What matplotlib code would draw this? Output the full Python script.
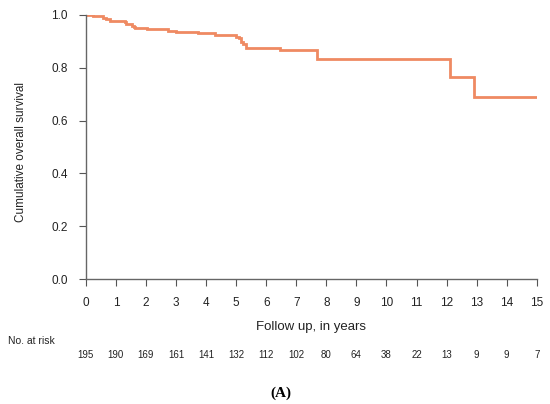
import matplotlib
matplotlib.use('Agg')
import matplotlib.pyplot as plt

# Kaplan-Meier step curve
times = [0, 0.24, 0.57, 0.66, 0.80, 1.30, 1.35, 1.52, 1.60, 1.65, 2.02, 2.73, 3.00,
         3.72, 4.29, 5.00, 5.09, 5.15, 5.22, 5.34, 6.45, 7.70, 12.10, 12.90, 15.0]
surv = [1.0, 0.995, 0.990, 0.984, 0.977, 0.972, 0.966, 0.960, 0.955, 0.952, 0.946,
        0.941, 0.936, 0.931, 0.925, 0.918, 0.912, 0.899, 0.889, 0.875, 0.866, 0.834,
        0.767, 0.691, 0.691]

years = list(range(16))
at_risk = [195, 190, 169, 161, 141, 132, 112, 102, 80, 64, 38, 22, 13, 9, 9, 7]

plt.rcParams['font.family'] = ['Liberation Sans', 'DejaVu Sans']

fig = plt.figure(figsize=(5.5, 4.04), dpi=100)
ax = fig.add_axes([0.156, 0.309, 0.82, 0.654])

ax.step(times, surv, where='post', color='#ef8a62', lw=2, solid_joinstyle='miter')

ax.set_xlim(0, 15)
ax.set_ylim(0, 1.0)
ax.set_xticks(years)
ax.set_yticks([0.0, 0.2, 0.4, 0.6, 0.8, 1.0])
ax.set_yticklabels(['0.0', '0.2', '0.4', '0.6', '0.8', '1.0'])
ax.tick_params(labelsize=8.5, length=5, width=0.8, color='#555555', labelcolor='#222222', pad=8)

for s in ['top', 'right']:
    ax.spines[s].set_visible(False)
for s in ['left', 'bottom']:
    ax.spines[s].set_color('#666666')
    ax.spines[s].set_linewidth(1.0)
ax.patch.set_visible(False)

fig.text(0.039, 0.624, 'Cumulative overall survival', rotation=90, ha='center', va='center',
         fontsize=8.5, color='#222222')
fig.text(0.565, 0.191, 'Follow up, in years', ha='center', va='center', fontsize=9.5, color='#222222')
fig.text(0.014, 0.156, 'No. at risk', ha='left', va='center', fontsize=7.5, color='#222222')

for yr, n in zip(years, at_risk):
    x = ax.transData.transform((yr, 0))[0] / fig.bbox.width
    fig.text(x, 0.121, str(n), ha='center', va='center', fontsize=7, color='#222222')

fig.text(0.511, 0.027, '(A)', ha='center', va='center', fontsize=11, fontweight='bold',
         family=['Liberation Serif', 'DejaVu Serif'])

fig.savefig('out.png', dpi=100)
